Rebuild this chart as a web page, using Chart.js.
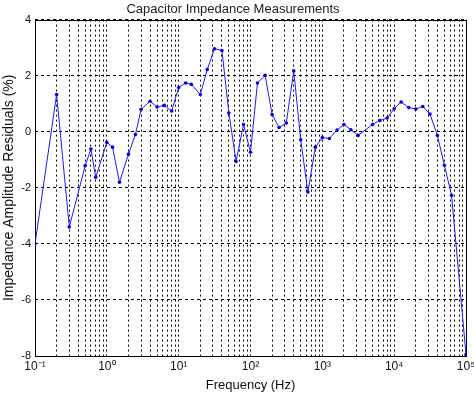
<!DOCTYPE html>
<html><head><meta charset="utf-8">
<script src="https://cdn.jsdelivr.net/npm/chart.js@4.4.0/dist/chart.umd.min.js"></script>
<style>html,body{margin:0;padding:0;background:#fff}#wrap{width:474px;height:398px}</style>
</head><body><div id="wrap"><canvas id="c" width="474" height="398"></canvas></div>
<script>
const frequencies = [0.1,0.2,0.3,0.5,0.6,0.7,1.0,1.2,1.5,2,2.5,3,4,5,6.3,8,10,12.5,15,20,25,31.5,40,50,63,80,100,125,160,200,250,315,400,500,630,800,1000,1250,1600,2000,2500,3150,5000,6300,8000,10000,12500,16000,20000,25000,31500,40000,50000,63000,100000];
const residuals = [-4.0,1.33,-3.4,-1.21,-0.62,-1.62,-0.38,-0.55,-1.8,-0.8,-0.1,0.8,1.09,0.88,0.94,0.74,1.58,1.74,1.69,1.33,2.22,2.96,2.9,0.67,-1.06,0.26,-0.73,1.74,2.01,0.61,0.15,0.31,2.17,-0.29,-2.15,-0.55,-0.21,-0.24,0.06,0.26,0.07,-0.13,0.26,0.4,0.49,0.82,1.06,0.86,0.81,0.9,0.63,-0.13,-1.2,-2.27,-7.95];
const yTicks = [4,2,0,-2,-4,-6,-8];
const xDecades = [-1,0,1,2,3,4,5];
const titleText = 'Capacitor Impedance Measurements';
const xTitle = 'Frequency (Hz)';
const yTitle = 'Impedance Amplitude Residuals (%)';

const supMap = {'-':'\u207B','0':'\u2070','1':'\u00B9','2':'\u00B2','3':'\u00B3','4':'\u2074','5':'\u2075'};
function decadeLabel(e){ return '10' + String(e).split('').map(c=>supMap[c]).join(''); }

const xTickValues = [];
for (let i = 0; i < xDecades.length; i++) {
  const e = xDecades[i];
  if (i === xDecades.length - 1) { xTickValues.push(Math.pow(10, e)); break; }
  for (let m = 1; m <= 9; m++) xTickValues.push(m * Math.pow(10, e));
}

const points = frequencies.map((f, i) => ({x: f, y: residuals[i]}));
const FONT = '"Liberation Sans", Arial, sans-serif';

const boxPlugin = {
  id: 'box',
  beforeDatasetsDraw(chart) {
    const {ctx, chartArea: a} = chart;
    ctx.save();
    ctx.strokeStyle = '#000';
    ctx.lineWidth = 1;
    ctx.setLineDash([]);
    ctx.strokeRect(Math.round(a.left) + 0.5, Math.round(a.top) + 0.5, Math.round(a.right - a.left), Math.round(a.bottom - a.top));
    ctx.restore();
  }
};

new Chart(document.getElementById('c'), {
  type: 'line',
  data: { datasets: [{
    data: points,
    borderColor: '#1a1aff',
    backgroundColor: '#1a1aff',
    borderWidth: 1,
    pointRadius: 1.8,
    pointBorderWidth: 0,
    pointBackgroundColor: '#0000ee',
    tension: 0,
    fill: false
  }]},
  options: {
    responsive: false,
    animation: false,
    devicePixelRatio: 1,
    layout: { padding: { left: 0, right: 8, top: 0, bottom: 0 } },
    plugins: {
      legend: { display: false },
      tooltip: { enabled: false },
      title: { display: true, text: titleText, color: '#222', font: { family: FONT, size: 13, weight: 'normal' }, padding: { top: 2, bottom: 2 } }
    },
    scales: {
      x: {
        type: 'logarithmic',
        min: 0.1, max: 100000,
        afterBuildTicks(scale) { scale.ticks = xTickValues.map(v => ({ value: v })); },
        afterFit(scale) { scale.height = 42; scale.paddingLeft = 0; scale.paddingRight = 0; },
        ticks: {
          autoSkip: false, maxRotation: 0, minRotation: 0, padding: 3, color: '#111',
          font: { family: FONT, size: 12 },
          callback(value) {
            const l = Math.log10(value);
            const r = Math.round(l);
            return Math.abs(l - r) < 1e-9 ? decadeLabel(r) : '';
          }
        },
        grid: { color: '#000', lineWidth: 1, drawTicks: false },
        border: { display: false, dash: [2, 3] },
        title: { display: true, text: xTitle, color: '#111', font: { family: FONT, size: 13 }, padding: { top: 5, bottom: 5 } }
      },
      y: {
        type: 'linear',
        min: -8, max: 4,
        afterBuildTicks(scale) { scale.ticks = yTicks.map(v => ({ value: v })); },
        afterFit(scale) { scale.width = 35; scale.paddingTop = 0; scale.paddingBottom = 0; },
        ticks: { padding: 4, color: '#111', font: { family: FONT, size: 11 } },
        grid: { color: '#000', lineWidth: 1, drawTicks: false },
        border: { display: false, dash: [3, 3] },
        title: { display: true, text: yTitle, color: '#111', font: { family: FONT, size: 14 }, padding: { top: 1, bottom: 1 } }
      }
    }
  },
  plugins: [boxPlugin]
});
</script>
</body></html>
